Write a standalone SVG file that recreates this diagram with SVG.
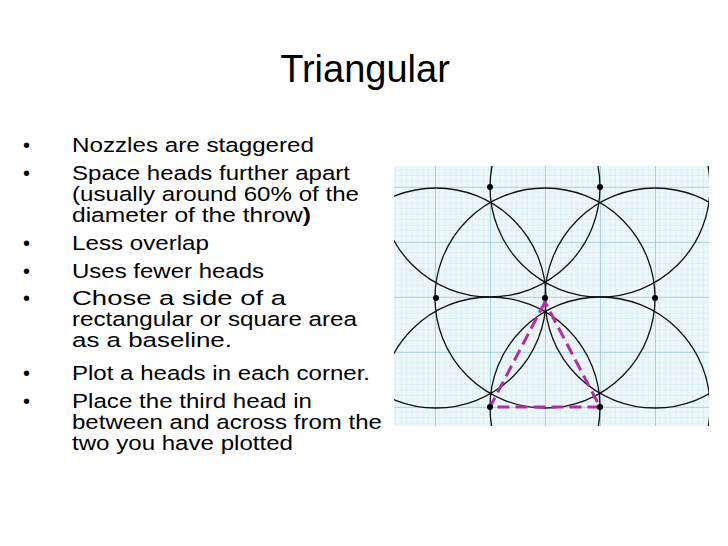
<svg xmlns="http://www.w3.org/2000/svg" width="728" height="546" viewBox="0 0 728 546">
<defs>
<pattern id="minor" x="0" y="0" width="5.5" height="5.5" patternUnits="userSpaceOnUse"><path d="M5.5 0V5.5H0" fill="none" stroke="#bfe0ea" stroke-width="0.6"/></pattern>
<pattern id="major" x="435" y="187" width="55" height="55" patternUnits="userSpaceOnUse"><path d="M0 0V55M0 0H55" fill="none" stroke="#7fb8cc" stroke-width="1.2"/></pattern>
<clipPath id="c"><rect x="394" y="166" width="315" height="260"/></clipPath>
</defs>
<style>
.t{font-family:"Liberation Sans",Arial,sans-serif;font-size:20.5px;fill:#000}
.b{font-size:20px}
.c{fill:none;stroke:#111;stroke-width:1.3}
.d{fill:#000}
</style>
<rect width="728" height="546" fill="#fff"/>
<text x="365" y="82" text-anchor="middle" style="font-family:'Liberation Sans',Arial,sans-serif;font-size:38px">Triangular</text>
<g class="t" lengthAdjust="spacingAndGlyphs">
<text class="b" x="23" y="152">•</text><text x="72" y="152" textLength="242" lengthAdjust="spacingAndGlyphs">Nozzles are staggered</text>
<text class="b" x="23" y="180">•</text><text x="72" y="180" textLength="278" lengthAdjust="spacingAndGlyphs">Space heads further apart</text>
<text x="72" y="201" textLength="287" lengthAdjust="spacingAndGlyphs">(usually around 60% of the</text>
<text x="72" y="222" textLength="239" lengthAdjust="spacingAndGlyphs">diameter of the throw<tspan font-weight="bold">)</tspan></text>
<text class="b" x="23" y="250">•</text><text x="72" y="250" textLength="137" lengthAdjust="spacingAndGlyphs">Less overlap</text>
<text class="b" x="23" y="278">•</text><text x="72" y="278" textLength="192" lengthAdjust="spacingAndGlyphs">Uses fewer heads</text>
<text class="b" x="23" y="305">•</text><text x="72" y="305" textLength="214" lengthAdjust="spacingAndGlyphs">Chose a side of a</text>
<text x="72" y="326" textLength="285" lengthAdjust="spacingAndGlyphs">rectangular or square area</text>
<text x="72" y="347" textLength="160" lengthAdjust="spacingAndGlyphs">as a baseline.</text>
<text class="b" x="23" y="380">•</text><text x="72" y="380" textLength="298" lengthAdjust="spacingAndGlyphs">Plot a heads in each corner.</text>
<text class="b" x="23" y="408">•</text><text x="72" y="408" textLength="240" lengthAdjust="spacingAndGlyphs">Place the third head in</text>
<text x="72" y="429" textLength="310" lengthAdjust="spacingAndGlyphs">between and across from the</text>
<text x="72" y="450" textLength="221" lengthAdjust="spacingAndGlyphs">two you have plotted</text>
</g>
<g id="chart">
<rect x="394" y="166" width="315" height="260" fill="#eef8fb"/>
<rect x="394" y="166" width="315" height="260" fill="url(#minor)"/>
<rect x="394" y="166" width="315" height="260" fill="url(#major)"/>
<g clip-path="url(#c)">
<circle class="c" cx="490" cy="187" r="110"/>
<circle class="c" cx="600" cy="187" r="110"/>
<circle class="c" cx="436" cy="298" r="110"/>
<circle class="c" cx="545" cy="298" r="110"/>
<circle class="c" cx="655" cy="298" r="110"/>
<circle class="c" cx="490" cy="407" r="110"/>
<circle class="c" cx="600" cy="407" r="110"/>
</g>
<polygon points="545,302 490,407 600,407" fill="none" stroke="#b52aa8" stroke-width="3" stroke-dasharray="12,6"/>
<g class="d">
<circle cx="490" cy="187" r="3"/><circle cx="600" cy="187" r="3"/>
<circle cx="436" cy="298" r="3"/><circle cx="545" cy="298" r="3"/><circle cx="655" cy="298" r="3"/>
<circle cx="490" cy="407" r="3"/><circle cx="600" cy="407" r="3"/>
</g>
</g>
</svg>
